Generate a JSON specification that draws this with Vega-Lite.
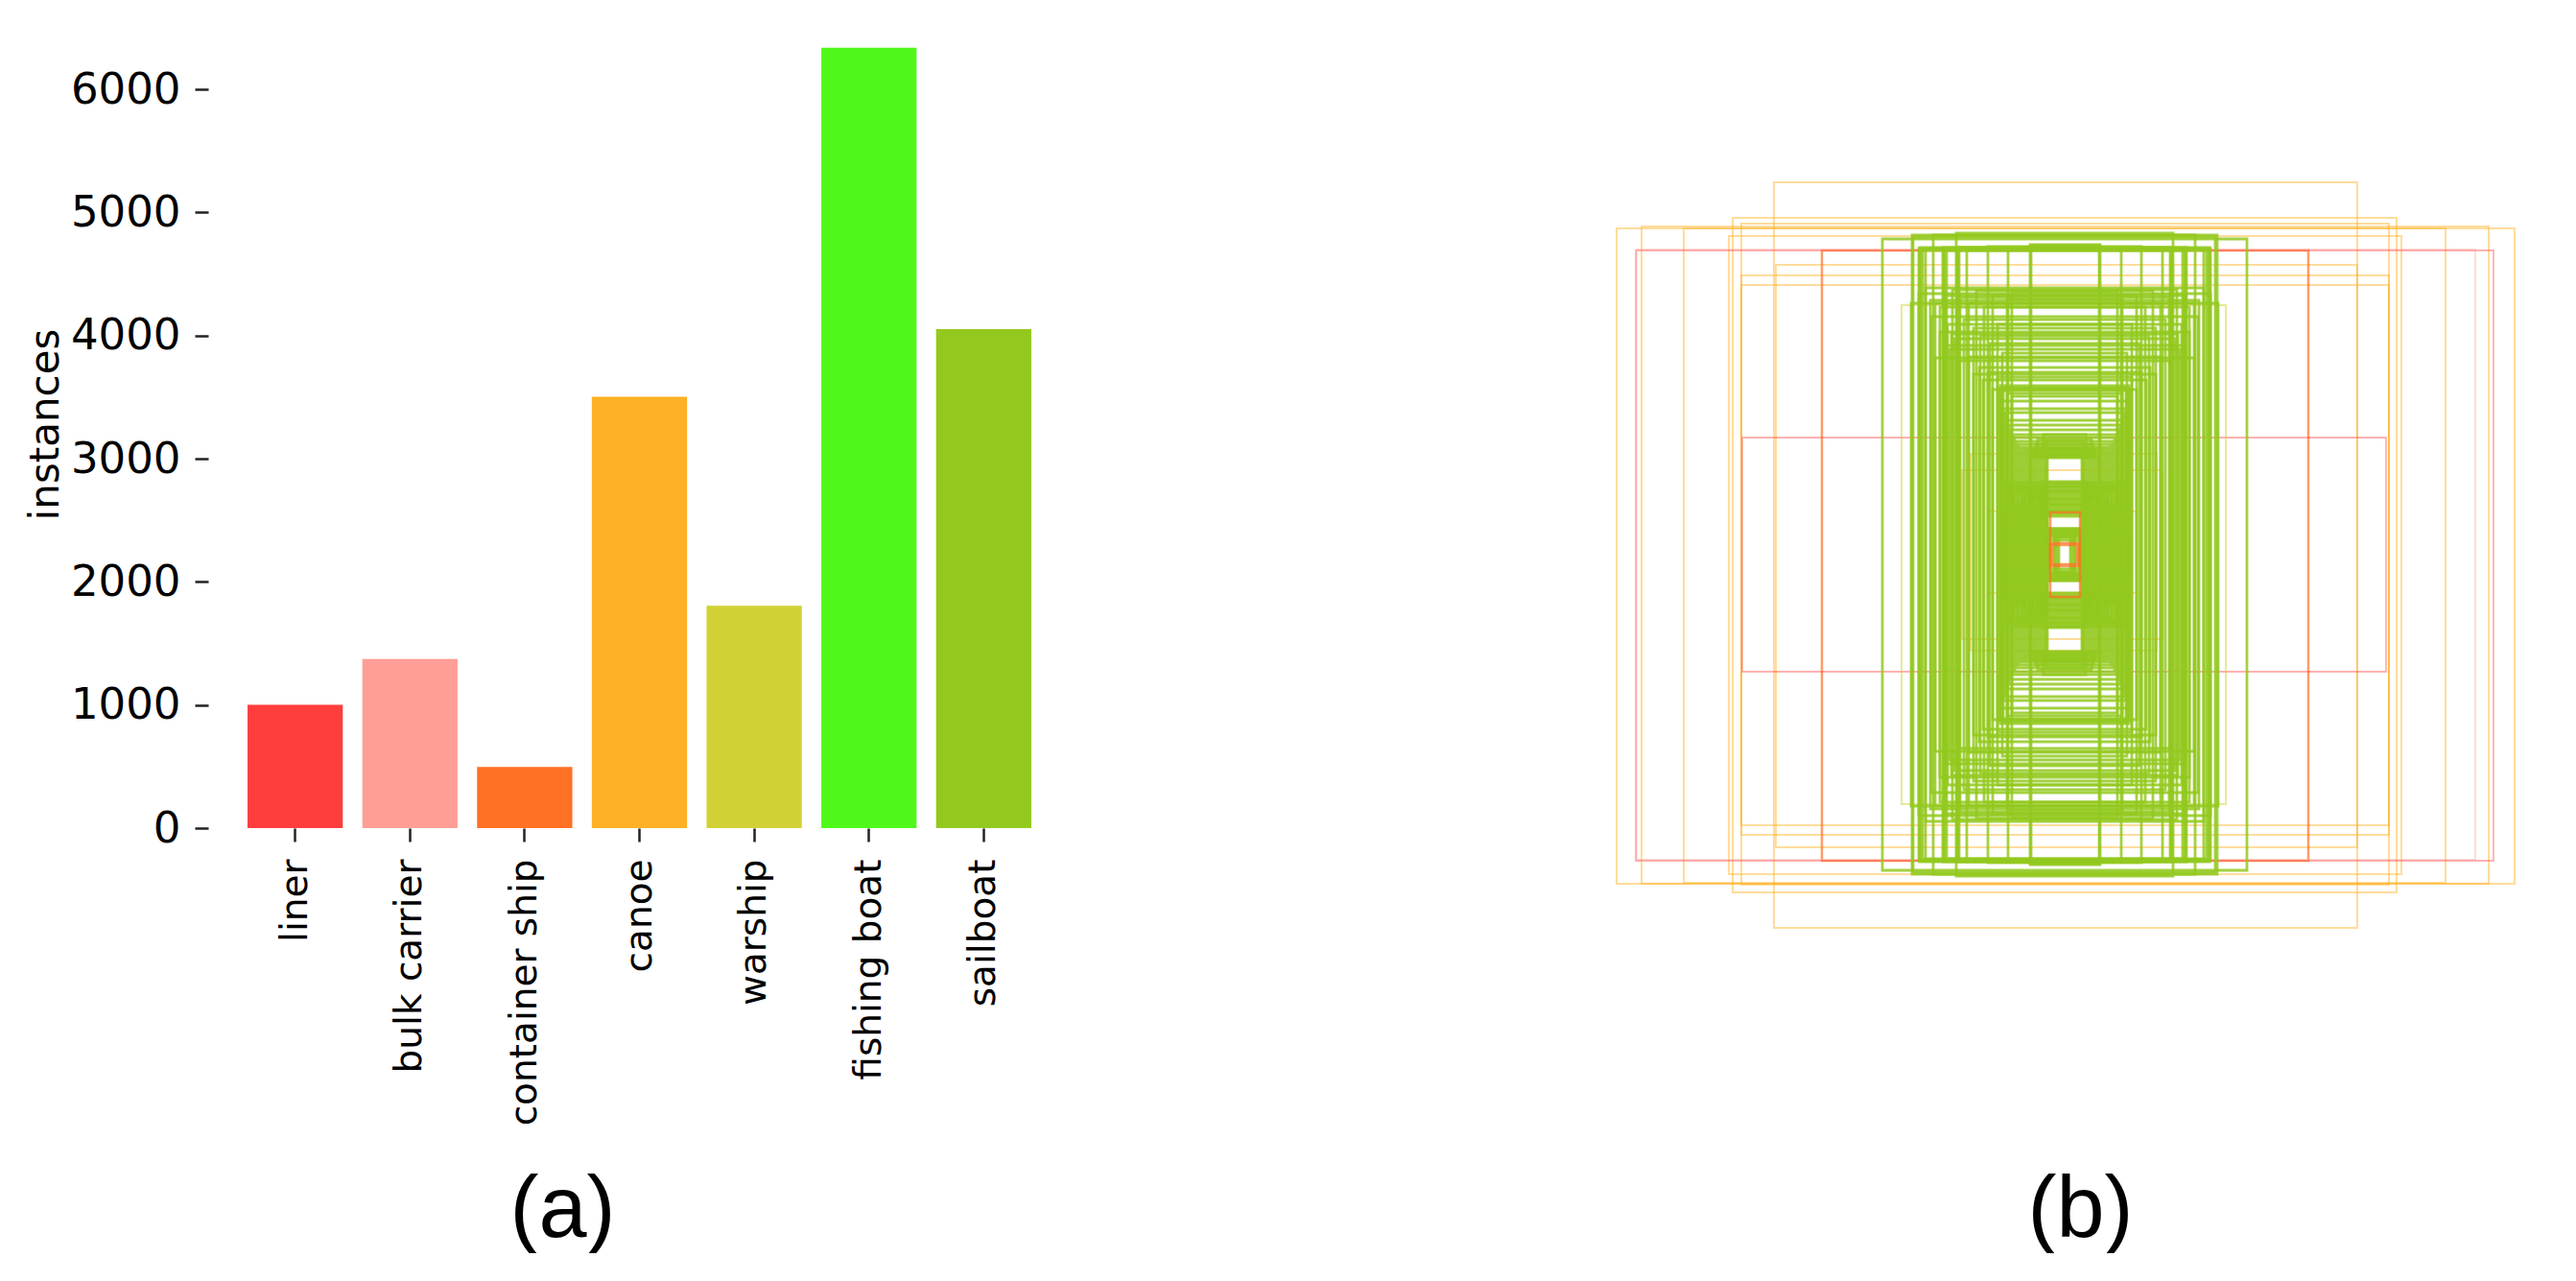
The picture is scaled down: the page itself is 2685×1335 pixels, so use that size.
{
  "$schema": "https://vega.github.io/schema/vega-lite/v6.json",
  "padding": {"left": 26, "top": 9, "right": 0, "bottom": 0},
  "autosize": {"type": "pad"},
  "background": "white",
  "config": {"view": {"stroke": null}, "font": "DejaVu Sans"},
  "spacing": 554,
  "datasets": {
    "counts": [
      {"category": "liner", "instances": 1002},
      {"category": "bulk carrier", "instances": 1373},
      {"category": "container ship", "instances": 497},
      {"category": "canoe", "instances": 3503},
      {"category": "warship", "instances": 1807},
      {"category": "fishing boat", "instances": 6339},
      {"category": "sailboat", "instances": 4053}
    ],
    "boxes": [
      {"c": "canoe", "x1": -303, "x2": 305, "y1": -388, "y2": 389},
      {"c": "canoe", "x1": -346, "x2": 346, "y1": -351, "y2": 352},
      {"c": "canoe", "x1": -467, "x2": 469, "y1": -340, "y2": 343},
      {"c": "canoe", "x1": -441, "x2": 442, "y1": -342, "y2": 343},
      {"c": "canoe", "x1": -397, "x2": 397, "y1": -340, "y2": 342},
      {"c": "canoe", "x1": -337, "x2": 338, "y1": -345, "y2": 344},
      {"c": "canoe", "x1": -350, "x2": 351, "y1": -332, "y2": 333},
      {"c": "canoe", "x1": -301, "x2": 305, "y1": -302, "y2": 305},
      {"c": "canoe", "x1": -337, "x2": 338, "y1": -291, "y2": 292},
      {"c": "canoe", "x1": -337, "x2": 338, "y1": -281, "y2": 282},
      {"c": "canoe", "x1": -107, "x2": 102, "y1": -88, "y2": 88},
      {"c": "canoe", "x1": -80, "x2": 75, "y1": -45, "y2": 40},
      {"c": "canoe", "x1": -98, "x2": 96, "y1": -105, "y2": 100},
      {"c": "container ship", "x1": -253, "x2": 254, "y1": -317, "y2": 319},
      {"c": "liner", "x1": -447, "x2": 447, "y1": -317, "y2": 319},
      {"c": "liner", "x1": -336, "x2": 335, "y1": -122, "y2": 122},
      {"c": "bulk carrier", "x1": -446, "x2": 428, "y1": -318, "y2": 318},
      {"c": "warship", "x1": -170, "x2": 168, "y1": -260, "y2": 260},
      {"c": "sailboat", "x1": -190, "x2": 190, "y1": -329, "y2": 329},
      {"c": "sailboat", "x1": -159, "x2": 159, "y1": -333, "y2": 333},
      {"c": "sailboat", "x1": -158, "x2": 157, "y1": -331, "y2": 331},
      {"c": "sailboat", "x1": -152, "x2": 152, "y1": -319, "y2": 319},
      {"c": "sailboat", "x1": -151, "x2": 151, "y1": -320, "y2": 320},
      {"c": "sailboat", "x1": -150, "x2": 150, "y1": -318, "y2": 318},
      {"c": "sailboat", "x1": -145, "x2": 145, "y1": -318, "y2": 318},
      {"c": "sailboat", "x1": -137, "x2": 136, "y1": -333, "y2": 333},
      {"c": "sailboat", "x1": -127, "x2": 127, "y1": -320, "y2": 320},
      {"c": "sailboat", "x1": -126, "x2": 126, "y1": -318, "y2": 318},
      {"c": "sailboat", "x1": -125, "x2": 125, "y1": -319, "y2": 319},
      {"c": "sailboat", "x1": -113, "x2": 113, "y1": -335, "y2": 335},
      {"c": "sailboat", "x1": -112, "x2": 112, "y1": -318, "y2": 318},
      {"c": "sailboat", "x1": -111, "x2": 111, "y1": -320, "y2": 320},
      {"c": "sailboat", "x1": -110, "x2": 110, "y1": -319, "y2": 319},
      {"c": "sailboat", "x1": -102, "x2": 102, "y1": -319, "y2": 319},
      {"c": "sailboat", "x1": -80, "x2": 80, "y1": -321, "y2": 321},
      {"c": "sailboat", "x1": -59, "x2": 59, "y1": -320, "y2": 320},
      {"c": "sailboat", "x1": -35, "x2": 36, "y1": -322, "y2": 322},
      {"c": "sailboat", "x1": -36, "x2": 37, "y1": -323, "y2": 323},
      {"c": "sailboat", "x1": -148, "x2": 148, "y1": -317, "y2": 317},
      {"c": "sailboat", "x1": -123, "x2": 123, "y1": -317, "y2": 317},
      {"c": "sailboat", "x1": -152, "x2": 152, "y1": -272, "y2": 272},
      {"c": "sailboat", "x1": -160, "x2": 160, "y1": -262, "y2": 262},
      {"c": "sailboat", "x1": -124, "x2": 124, "y1": -270, "y2": 270},
      {"c": "sailboat", "x1": -109, "x2": 109, "y1": -268, "y2": 268},
      {"c": "sailboat", "x1": -92, "x2": 92, "y1": -275, "y2": 275},
      {"c": "sailboat", "x1": -140, "x2": 140, "y1": -265, "y2": 265},
      {"c": "sailboat", "x1": -130, "x2": 130, "y1": -258, "y2": 258},
      {"c": "sailboat", "x1": -100, "x2": 100, "y1": -262, "y2": 262},
      {"c": "sailboat", "x1": -75, "x2": 75, "y1": -270, "y2": 270},
      {"c": "sailboat", "x1": -60, "x2": 60, "y1": -266, "y2": 266},
      {"c": "sailboat", "x1": -145, "x2": 145, "y1": -278, "y2": 278},
      {"c": "sailboat", "x1": -117, "x2": 117, "y1": -276, "y2": 276},
      {"c": "sailboat", "x1": -84, "x2": 84, "y1": -258, "y2": 258},
      {"c": "sailboat", "x1": -55, "x2": 55, "y1": -274, "y2": 274},
      {"c": "sailboat", "x1": -135, "x2": 135, "y1": -262, "y2": 262},
      {"c": "sailboat", "x1": -139, "x2": 139, "y1": -248, "y2": 248},
      {"c": "sailboat", "x1": -122, "x2": 122, "y1": -240, "y2": 240},
      {"c": "sailboat", "x1": -130, "x2": 130, "y1": -232, "y2": 232},
      {"c": "sailboat", "x1": -115, "x2": 115, "y1": -225, "y2": 225},
      {"c": "sailboat", "x1": -105, "x2": 105, "y1": -245, "y2": 245},
      {"c": "sailboat", "x1": -95, "x2": 95, "y1": -236, "y2": 236},
      {"c": "sailboat", "x1": -88, "x2": 88, "y1": -228, "y2": 228},
      {"c": "sailboat", "x1": -78, "x2": 78, "y1": -220, "y2": 220},
      {"c": "sailboat", "x1": -120, "x2": 120, "y1": -214, "y2": 214},
      {"c": "sailboat", "x1": -100, "x2": 100, "y1": -206, "y2": 206},
      {"c": "sailboat", "x1": -70, "x2": 70, "y1": -240, "y2": 240},
      {"c": "sailboat", "x1": -65, "x2": 65, "y1": -210, "y2": 210},
      {"c": "sailboat", "x1": -110, "x2": 110, "y1": -202, "y2": 202},
      {"c": "sailboat", "x1": -125, "x2": 125, "y1": -218, "y2": 218},
      {"c": "sailboat", "x1": -135, "x2": 135, "y1": -205, "y2": 205},
      {"c": "sailboat", "x1": -118, "x2": 118, "y1": -230, "y2": 230},
      {"c": "sailboat", "x1": -89, "x2": 89, "y1": -195, "y2": 195},
      {"c": "sailboat", "x1": -80, "x2": 80, "y1": -190, "y2": 190},
      {"c": "sailboat", "x1": -70, "x2": 70, "y1": -185, "y2": 185},
      {"c": "sailboat", "x1": -67, "x2": 67, "y1": -176, "y2": 176},
      {"c": "sailboat", "x1": -75, "x2": 75, "y1": -172, "y2": 172},
      {"c": "sailboat", "x1": -85, "x2": 85, "y1": -182, "y2": 182},
      {"c": "sailboat", "x1": -60, "x2": 60, "y1": -168, "y2": 168},
      {"c": "sailboat", "x1": -64, "x2": 64, "y1": -174, "y2": 174},
      {"c": "sailboat", "x1": -95, "x2": 95, "y1": -188, "y2": 188},
      {"c": "sailboat", "x1": -55, "x2": 55, "y1": -165, "y2": 165},
      {"c": "sailboat", "x1": -66, "x2": 66, "y1": -171, "y2": 171},
      {"c": "sailboat", "x1": -68, "x2": 68, "y1": -173, "y2": 173},
      {"c": "sailboat", "x1": -66, "x2": 66, "y1": -160, "y2": 160},
      {"c": "sailboat", "x1": -64, "x2": 64, "y1": -152, "y2": 152},
      {"c": "sailboat", "x1": -62, "x2": 62, "y1": -148, "y2": 148},
      {"c": "sailboat", "x1": -60, "x2": 60, "y1": -140, "y2": 140},
      {"c": "sailboat", "x1": -58, "x2": 58, "y1": -135, "y2": 135},
      {"c": "sailboat", "x1": -56, "x2": 56, "y1": -130, "y2": 130},
      {"c": "sailboat", "x1": -54, "x2": 54, "y1": -125, "y2": 125},
      {"c": "sailboat", "x1": -52, "x2": 52, "y1": -122, "y2": 122},
      {"c": "sailboat", "x1": -50, "x2": 50, "y1": -118, "y2": 118},
      {"c": "sailboat", "x1": -48, "x2": 48, "y1": -115, "y2": 115},
      {"c": "sailboat", "x1": -46, "x2": 46, "y1": -112, "y2": 112},
      {"c": "sailboat", "x1": -44, "x2": 44, "y1": -110, "y2": 110},
      {"c": "sailboat", "x1": -42, "x2": 42, "y1": -108, "y2": 108},
      {"c": "sailboat", "x1": -40, "x2": 40, "y1": -106, "y2": 106},
      {"c": "sailboat", "x1": -38, "x2": 38, "y1": -104, "y2": 104},
      {"c": "sailboat", "x1": -36, "x2": 36, "y1": -102, "y2": 102},
      {"c": "sailboat", "x1": -34, "x2": 34, "y1": -101, "y2": 101},
      {"c": "sailboat", "x1": -32, "x2": 32, "y1": -110, "y2": 110},
      {"c": "sailboat", "x1": -30, "x2": 30, "y1": -115, "y2": 115},
      {"c": "sailboat", "x1": -28, "x2": 28, "y1": -120, "y2": 120},
      {"c": "sailboat", "x1": -26, "x2": 26, "y1": -105, "y2": 105},
      {"c": "sailboat", "x1": -24, "x2": 24, "y1": -112, "y2": 112},
      {"c": "sailboat", "x1": -22, "x2": 22, "y1": -125, "y2": 125},
      {"c": "sailboat", "x1": -20, "x2": 20, "y1": -108, "y2": 108},
      {"c": "sailboat", "x1": -19, "x2": 19, "y1": -118, "y2": 118},
      {"c": "sailboat", "x1": -18, "x2": 18, "y1": -103, "y2": 103},
      {"c": "sailboat", "x1": -65, "x2": 65, "y1": -75, "y2": 75},
      {"c": "sailboat", "x1": -61, "x2": 61, "y1": -72, "y2": 72},
      {"c": "sailboat", "x1": -57, "x2": 57, "y1": -70, "y2": 70},
      {"c": "sailboat", "x1": -53, "x2": 53, "y1": -68, "y2": 68},
      {"c": "sailboat", "x1": -49, "x2": 49, "y1": -66, "y2": 66},
      {"c": "sailboat", "x1": -45, "x2": 45, "y1": -64, "y2": 64},
      {"c": "sailboat", "x1": -41, "x2": 41, "y1": -62, "y2": 62},
      {"c": "sailboat", "x1": -37, "x2": 37, "y1": -60, "y2": 60},
      {"c": "sailboat", "x1": -33, "x2": 33, "y1": -58, "y2": 58},
      {"c": "sailboat", "x1": -29, "x2": 29, "y1": -56, "y2": 56},
      {"c": "sailboat", "x1": -25, "x2": 25, "y1": -54, "y2": 54},
      {"c": "sailboat", "x1": -21, "x2": 21, "y1": -52, "y2": 52},
      {"c": "sailboat", "x1": -18, "x2": 18, "y1": -50, "y2": 50},
      {"c": "sailboat", "x1": -63, "x2": 63, "y1": -48, "y2": 48},
      {"c": "sailboat", "x1": -55, "x2": 55, "y1": -46, "y2": 46},
      {"c": "sailboat", "x1": -47, "x2": 47, "y1": -44, "y2": 44},
      {"c": "sailboat", "x1": -39, "x2": 39, "y1": -42, "y2": 42},
      {"c": "sailboat", "x1": -31, "x2": 31, "y1": -40, "y2": 40},
      {"c": "sailboat", "x1": -23, "x2": 23, "y1": -76, "y2": 76},
      {"c": "sailboat", "x1": -19, "x2": 19, "y1": -74, "y2": 74},
      {"c": "sailboat", "x1": -27, "x2": 27, "y1": -71, "y2": 71},
      {"c": "sailboat", "x1": -35, "x2": 35, "y1": -66, "y2": 66},
      {"c": "sailboat", "x1": -43, "x2": 43, "y1": -58, "y2": 58},
      {"c": "sailboat", "x1": -51, "x2": 51, "y1": -52, "y2": 52},
      {"c": "sailboat", "x1": -59, "x2": 59, "y1": -45, "y2": 45},
      {"c": "sailboat", "x1": -40, "x2": 40, "y1": -25, "y2": 25},
      {"c": "sailboat", "x1": -30, "x2": 30, "y1": -22, "y2": 22},
      {"c": "sailboat", "x1": -50, "x2": 50, "y1": -27, "y2": 27},
      {"c": "sailboat", "x1": -60, "x2": 60, "y1": -24, "y2": 24},
      {"c": "sailboat", "x1": -17, "x2": 17, "y1": -27, "y2": 27},
      {"c": "sailboat", "x1": -16, "x2": 16, "y1": -24, "y2": 24},
      {"c": "sailboat", "x1": -17, "x2": 17, "y1": -21, "y2": 21},
      {"c": "sailboat", "x1": -16, "x2": 16, "y1": -18, "y2": 18},
      {"c": "sailboat", "x1": -15, "x2": 15, "y1": -15, "y2": 15},
      {"c": "sailboat", "x1": -66, "x2": 66, "y1": -20, "y2": 20},
      {"c": "sailboat", "x1": -8, "x2": 8, "y1": -20, "y2": 20},
      {"c": "sailboat", "x1": -10, "x2": 10, "y1": -22, "y2": 22},
      {"c": "sailboat", "x1": -6, "x2": 6, "y1": -18, "y2": 18},
      {"c": "sailboat", "x1": -11, "x2": 11, "y1": -25, "y2": 25},
      {"c": "container ship", "x1": -15, "x2": 15, "y1": -12, "y2": 12},
      {"c": "container ship", "x1": -13, "x2": 13, "y1": -10, "y2": 10},
      {"c": "container ship", "x1": -15, "x2": 16, "y1": -44, "y2": 44}
    ]
  },
  "hconcat": [
    {
      "width": 899,
      "height": 854,
      "data": {"name": "counts"},
      "mark": {"type": "bar"},
      "encoding": {
        "x": {
          "field": "category",
          "type": "nominal",
          "sort": null,
          "scale": {"paddingInner": 0.17, "paddingOuter": 0.343},
          "axis": {
            "title": "(a)",
            "titleFont": "Liberation Sans",
            "titleFontSize": 90,
            "titleFontWeight": "normal",
            "titleColor": "#000",
            "titleX": 369,
            "titleY": 425,
            "titleAlign": "center",
            "titleBaseline": "alphabetic",
            "labelAngle": -90,
            "labelFontSize": 39,
            "labelColor": "#000",
            "labelPadding": 18,
            "labelLimit": 0,
            "tickSize": 14,
            "tickWidth": 2.5,
            "tickColor": "#222",
            "domain": false,
            "grid": false
          }
        },
        "y": {
          "field": "instances",
          "type": "quantitative",
          "scale": {"domain": [0, 6656], "nice": false},
          "axis": {
            "values": [0, 1000, 2000, 3000, 4000, 5000, 6000],
            "format": "d",
            "title": "instances",
            "titleFontSize": 42,
            "titleFontWeight": "normal",
            "titleColor": "#000",
            "titleX": -157,
            "titleY": 433,
            "titleAngle": -90,
            "titleAlign": "center",
            "titleBaseline": "alphabetic",
            "labelFontSize": 45,
            "labelColor": "#000",
            "labelPadding": 15,
            "tickSize": 14,
            "tickWidth": 2.5,
            "tickColor": "#222",
            "domain": false,
            "grid": false
          }
        },
        "color": {
          "field": "category",
          "type": "nominal",
          "scale": {
            "domain": ["liner", "bulk carrier", "container ship", "canoe", "warship", "fishing boat", "sailboat"],
            "range": ["#ff3d3d", "#ff9e96", "#ff7124", "#feb124", "#d1d136", "#4ff819", "#93c91e"]
          },
          "legend": null
        }
      }
    },
    {
      "width": 970,
      "height": 991,
      "data": {"name": "boxes"},
      "mark": {"type": "rect", "filled": false},
      "encoding": {
        "x": {
          "field": "x1",
          "type": "quantitative",
          "scale": {"domain": [-482, 488], "nice": false, "zero": false},
          "axis": {
            "title": "(b)",
            "titleFont": "Liberation Sans",
            "titleFontSize": 90,
            "titleFontWeight": "normal",
            "titleColor": "#000",
            "titleX": 498,
            "titleY": 288,
            "titleAlign": "center",
            "titleBaseline": "alphabetic",
            "domain": false,
            "ticks": false,
            "labels": false,
            "grid": false
          }
        },
        "x2": {"field": "x2"},
        "y": {
          "field": "y1",
          "type": "quantitative",
          "scale": {"domain": [-569, 422], "reverse": true, "nice": false, "zero": false},
          "axis": null
        },
        "y2": {"field": "y2"},
        "stroke": {
          "field": "c",
          "type": "nominal",
          "scale": {
            "domain": ["liner", "bulk carrier", "container ship", "canoe", "warship", "fishing boat", "sailboat"],
            "range": ["#ff3d3d", "#ff9e96", "#ff7124", "#feb124", "#d1d136", "#4ff819", "#93c91e"]
          },
          "legend": null
        },
        "strokeOpacity": {
          "field": "c",
          "type": "ordinal",
          "scale": {
            "type": "ordinal",
            "domain": ["liner", "bulk carrier", "container ship", "canoe", "warship", "fishing boat", "sailboat"],
            "range": [0.4, 0.4, 0.7, 0.45, 0.5, 0.7, 0.85]
          },
          "legend": null
        },
        "strokeWidth": {
          "field": "c",
          "type": "ordinal",
          "scale": {
            "type": "ordinal",
            "domain": ["liner", "bulk carrier", "container ship", "canoe", "warship", "fishing boat", "sailboat"],
            "range": [1.8, 1.8, 2.5, 2, 2, 2.5, 2.8]
          },
          "legend": null
        }
      }
    }
  ]
}
